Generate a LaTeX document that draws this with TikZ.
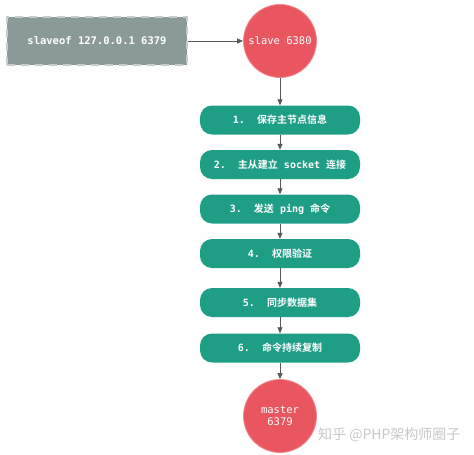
\documentclass[tikz,border=0pt]{standalone}
\usepackage{fontspec}
\setmonofont{DejaVu Sans Mono}
\newfontfamily\cjk{Noto Sans CJK SC}[BoldFont={Noto Sans CJK SC Bold}]
\usetikzlibrary{arrows.meta}
\definecolor{boxgray}{HTML}{8A9A99}
\definecolor{dashgray}{HTML}{C5CCCB}
\definecolor{stepteal}{HTML}{1F9E86}
\definecolor{nodered}{HTML}{EA5660}
\definecolor{linegray}{HTML}{555B5B}
\definecolor{markgray}{HTML}{C8C8C8}
\tikzset{
  cmdbox/.style={rectangle, fill=boxgray, draw=dashgray, dashed, line width=1.2pt, dash pattern=on 8pt off 6pt, minimum width=180pt, minimum height=48pt, text=white, font=\ttfamily\bfseries\fontsize{10.5}{12}\selectfont},
  rednode/.style={circle, fill=nodered, draw=nodered!70!white, line width=0.8pt, minimum size=73pt, inner sep=0pt, text=white, font=\ttfamily\fontsize{10.5}{12}\selectfont, align=center},
  stepbox/.style={rectangle, rounded corners=12pt, fill=stepteal, draw=none, minimum width=160pt, minimum height=29pt, text=white, font=\ttfamily\bfseries\fontsize{10}{12}\selectfont},
  conn/.style={draw=linegray, line width=0.8pt, -{Triangle[length=6pt,width=5pt]}},
}
\newcommand{\zh}[1]{{\cjk\bfseries #1}}
\begin{document}
\begin{tikzpicture}[x=1pt,y=-1pt]
\useasboundingbox[fill=white] (0,0) rectangle (474,455);
\node[cmdbox] (cmd) at (97,41) {slaveof 127.0.0.1 6379};
\node[rednode] (slave) at (280,41) {slave 6380};
\node[stepbox] (s1) at (280,120) {1.\ \ \zh{保存主节点信息}};
\node[stepbox] (s2) at (280,164.5) {2.\ \ \zh{主从建立} socket \zh{连接}};
\node[stepbox] (s3) at (280,209) {3.\ \ \zh{发送} ping \zh{命令}};
\node[stepbox] (s4) at (280,253.5) {4.\ \ \zh{权限验证}};
\node[stepbox] (s5) at (280,302.5) {5.\ \ \zh{同步数据集}};
\node[stepbox] (s6) at (280,348) {6.\ \ \zh{命令持续复制}};
\node[rednode] (master) at (280,416) {master\\6379};
\node[text=markgray, font=\cjk\fontsize{14}{16}\selectfont, anchor=west, inner sep=0pt] (wm) at (318,435) {知乎 @PHP架构师圈子};
\draw[conn] (cmd) -- (slave);
\draw[conn] (slave) -- (s1);
\draw[conn] (s1) -- (s2);
\draw[conn] (s2) -- (s3);
\draw[conn] (s3) -- (s4);
\draw[conn] (s4) -- (s5);
\draw[conn] (s5) -- (s6);
\draw[conn] (s6) -- (master);
\end{tikzpicture}
\end{document}
